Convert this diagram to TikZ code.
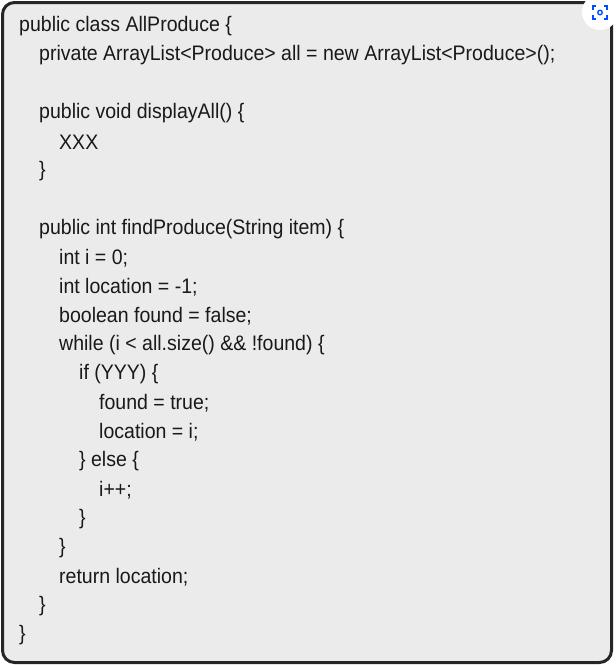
\documentclass[tikz,border=0pt]{standalone}
\usepackage{fontspec}
\setmainfont[FakeStretch=0.93]{Liberation Sans}
\begin{document}
\begin{tikzpicture}[x=1pt,y=-1pt,
  code/.style={anchor=west,inner sep=0pt,font=\fontsize{21}{24}\selectfont,text=black!90}]
\useasboundingbox (0,0) rectangle (616,665);
\draw[line width=3pt,draw=black!85,fill=black!8,rounded corners=12pt] (2.5,2.5) rectangle (611.5,662.5);
\fill[white] (600,12) circle (18);
\draw[blue!70!cyan,line width=1.4pt] (593,10) |- (596,6) (604,6) -| (607,10) (607,15) |- (604,19) (596,19) -| (593,15);
\draw[blue!70!cyan,line width=1.3pt] (600,12.5) circle (2.3);
\foreach \i/\l/\t in {0/0/{public class AllProduce \{},
 1/1/{private ArrayList<Produce> all = new ArrayList<Produce>();},
 3/1/{public void displayAll() \{},
 4/2/{XXX},
 5/1/{\}},
 7/1/{public int findProduce(String item) \{},
 8/2/{int i = 0;},
 9/2/{int location = -1;},
 10/2/{boolean found = false;},
 11/2/{while (i < all.size() \&\& !found) \{},
 12/3/{if (YYY) \{},
 13/4/{found = true;},
 14/4/{location = i;},
 15/3/{\} else \{},
 16/4/{i++;},
 17/3/{\}},
 18/2/{\}},
 19/2/{return location;},
 20/1/{\}},
 21/0/{\}}}
 \node[code] (l\i) at (19+20*\l,26+29*\i) {\t};
\end{tikzpicture}
\end{document}
